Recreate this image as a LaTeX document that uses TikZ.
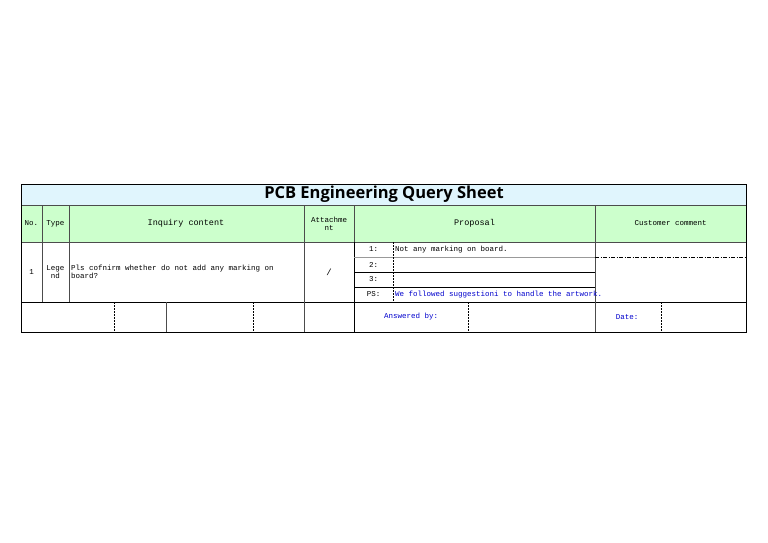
\documentclass[tikz,border=0pt]{standalone}
\usepackage{fontspec}
\setmainfont{Liberation Mono}
\newfontfamily\titlefont{Open Sans}
\begin{document}
\begin{tikzpicture}[x=1pt,y=-1pt,
  txt/.style={font=\fontsize{7.5}{8}\selectfont,inner sep=0pt},
  blu/.style={txt,text=blue!80!black},
  grid/.style={draw=black!70,line width=0.5pt},
  dsh/.style={draw=black,dashed,dash pattern=on 2pt off 1pt,line width=0.5pt}]
\useasboundingbox (0,0) rectangle (768,543);
\fill[cyan!12] (21,184) rectangle (746,205);
\fill[green!20] (21,205) rectangle (746,242);
\node[font=\titlefont\bfseries\fontsize{16.5}{17}\selectfont,inner sep=0pt] (title) at (384,194.5) {PCB Engineering Query Sheet};
% grid
\draw[grid] (21,205) -- (746,205);
\draw[grid] (21,242) -- (746,242);
\draw[line width=0.8pt] (21,302) -- (746,302);
\foreach \x in {42,69,304} \draw[grid] (\x,205) -- (\x,302);
\draw[grid] (354,205) -- (354,242);
\draw[line width=0.8pt] (354,242) -- (354,332);
\draw[grid] (595,205) -- (595,332);
\draw[grid] (166,302) -- (166,332);
\draw[grid] (304,302) -- (304,332);
\draw[draw=black!40] (354,257) -- (595,257);
\draw[line width=0.6pt] (354,272) -- (595,272);
\draw[line width=0.6pt] (354,287) -- (595,287);
\draw[dsh] (393,242) -- (393,302);
\draw[draw=black,dash pattern=on 4pt off 1.5pt on 1pt off 1.5pt] (595,257) -- (746,257);
\foreach \x in {114,253,468,661} \draw[dsh] (\x,302) -- (\x,332);
\draw[line width=1pt] (21,184) rectangle (746,332);
% header texts
\node[txt] (h1) at (31.5,223.5) {No.};
\node[txt] (h2) at (55.5,223.5) {Type};
\node[txt,font=\fontsize{8.5}{9}\selectfont] (h3) at (186,223.5) {Inquiry content};
\node[txt,align=center] (h4) at (329,223.5) {Attachme\\nt};
\node[txt,font=\fontsize{8.5}{9}\selectfont] (h5) at (474.5,223.5) {Proposal};
\node[txt] (h6) at (670.5,223.5) {Customer comment};
% data
\node[txt] (n1) at (31.5,272) {1};
\node[txt,align=center] (t1) at (55.5,272) {Lege\\nd};
\node[txt,align=left,anchor=west] (c1) at (71,272) {Pls cofnirm whether do not add any marking on\\board?};
\node[txt,font=\fontsize{9}{9}\selectfont] (a1) at (329,272) {/};
\node[txt] (p1) at (373.5,249.5) {1:};
\node[txt] (p2) at (373.5,264.5) {2:};
\node[txt] (p3) at (373.5,279.5) {3:};
\node[txt] (p4) at (373.5,294.5) {PS:};
\node[txt,anchor=west] (q1) at (395,249.5) {Not any marking on board.};
\node[blu,anchor=west] (q4) at (395,294.5) {We followed suggestioni to handle the artwork.};
\node[blu] (ans) at (411,317) {Answered by:};
\node[blu] (dt) at (627,317) {Date:};
\end{tikzpicture}
\end{document}
